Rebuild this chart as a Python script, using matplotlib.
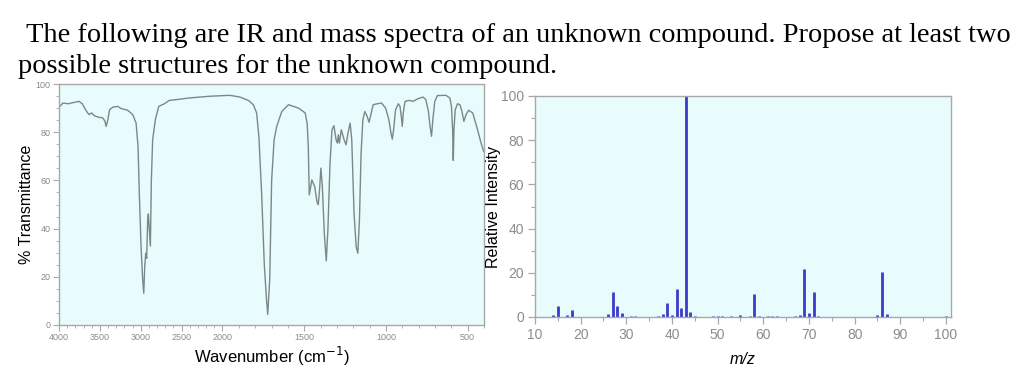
import matplotlib
matplotlib.use("Agg")
import matplotlib.pyplot as plt
import numpy as np
from matplotlib.ticker import MultipleLocator, FixedLocator

# IR trace: wavenumber (cm-1) and % transmittance
ir_wn = [4000, 3951, 3890, 3809, 3756, 3715, 3675, 3634, 3602, 3565, 3524, 3463,
         3439, 3423, 3402, 3382, 3341, 3280, 3240, 3159, 3098, 3057, 3033, 3016,
         2996, 2976, 2963, 2951, 2939, 2927, 2915, 2907, 2894, 2882, 2870, 2854,
         2821, 2780, 2711, 2650, 2569, 2407, 2163, 1955, 1894, 1842, 1811, 1791,
         1777, 1760, 1744, 1730, 1723, 1711, 1699, 1684, 1668, 1637, 1596, 1535,
         1494, 1482, 1475, 1469, 1453, 1436, 1422, 1414, 1406, 1398, 1389, 1377,
         1365, 1355, 1342, 1330, 1318, 1305, 1297, 1291, 1285, 1273, 1256, 1244,
         1232, 1219, 1209, 1195, 1182, 1172, 1162, 1152, 1141, 1129, 1115, 1103,
         1090, 1078, 1053, 1027, 1002, 982, 969, 961, 953, 941, 924, 914, 906,
         900, 894, 883, 859, 834, 807, 773, 756, 740, 730, 721, 713, 701, 685,
         633, 609, 599, 592, 588, 584, 576, 562, 547, 535, 523, 510, 494, 469,
         445, 418, 402]
ir_t = [90.4, 92.1, 91.8, 92.4, 92.8, 91.8, 89.3, 87.3, 88.0, 86.8, 86.3, 85.9,
        84.6, 82.4, 85.2, 89.3, 90.4, 90.7, 89.8, 89.1, 87.3, 83.8, 74.1, 53.3,
        32.5, 18.7, 13.2, 24.1, 29.8, 27.7, 43.6, 46.1, 39.5, 32.8, 60.2, 76.9,
        85.2, 90.7, 91.8, 93.2, 93.5, 94.2, 94.9, 95.3, 94.6, 93.2, 91.4, 88.0,
        78.0, 54.0, 25.0, 10.0, 4.4, 18.7, 60.2, 76.9, 82.4, 88.6, 91.4, 90.0,
        88.0, 83.8, 74.1, 54.0, 60.2, 57.5, 51.2, 49.9, 56.1, 65.1, 57.5, 38.1,
        26.6, 39.5, 67.2, 81.0, 82.7, 76.9, 75.5, 78.9, 75.5, 81.0, 76.9, 74.8,
        79.6, 83.8, 76.9, 46.4, 32.5, 29.8, 43.6, 71.3, 85.2, 88.6, 86.6, 84.1,
        88.0, 91.4, 91.8, 92.1, 90.0, 85.2, 79.6, 77.1, 81.0, 89.3, 91.8, 90.7,
        86.6, 82.4, 88.0, 92.8, 93.2, 92.8, 93.8, 94.6, 93.5, 88.6, 82.4, 78.3,
        85.2, 92.8, 95.2, 95.3, 94.2, 90.7, 81.0, 68.3, 81.0, 89.3, 91.8, 91.4,
        88.6, 84.5, 87.3, 89.1, 88.0, 82.4, 75.5, 72.0]

# mass spectrum peaks
ms_mz = [14, 15, 17, 18, 26, 27, 28, 29, 31, 32, 37, 38, 39, 40, 41, 42, 43, 44,
         45, 49, 50, 51, 53, 55, 57, 58, 59, 61, 62, 63, 67, 68, 69, 70, 71, 72,
         85, 86, 87, 100]
ms_int = [0.8, 5.2, 0.8, 3.3, 1.5, 11.1, 4.9, 2.0, 0.5, 0.5, 0.6, 1.3, 6.5, 0.9,
          12.5, 4.0, 100.0, 2.3, 0.6, 0.6, 0.6, 0.6, 0.6, 0.8, 0.5, 10.5, 0.5, 0.4,
          0.6, 0.4, 0.5, 1.0, 21.7, 1.8, 11.3, 0.4, 0.8, 20.3, 1.4, 0.5]

title_1 = "The following are IR and mass spectra of an unknown compound. Propose at least two"
title_2 = "possible structures for the unknown compound."

BG = "#e8fbfd"
SPINE = "#a8a8a8"
TICKC = "#8c8c8c"
SANS = ["Liberation Sans", "DejaVu Sans"]


def _ir_fwd(w):
    w = np.asarray(w, dtype=float)
    return np.where(w >= 2000, w, 2 * w - 2000)


def _ir_inv(v):
    v = np.asarray(v, dtype=float)
    return np.where(v >= 2000, v, (v + 2000) / 2)


def _style(ax):
    ax.set_facecolor(BG)
    for s in ax.spines.values():
        s.set_color(SPINE)
        s.set_linewidth(1.0)


fig = plt.figure(figsize=(10.24, 3.74), dpi=100)

# title text, sized so the first line spans the same width as in the picture
t1 = fig.text(26 / 1024, 1 - 41.7 / 374, title_1, family="Liberation Serif",
              fontsize=20, va="baseline", ha="left", color="black")
t2 = fig.text(18 / 1024, 1 - 72.7 / 374, title_2, family="Liberation Serif",
              fontsize=20, va="baseline", ha="left", color="black")
fig.canvas.draw()
w1 = t1.get_window_extent().width
fs = 20 * 986 / w1
t1.set_fontsize(fs)
t2.set_fontsize(fs)

# IR spectrum
ax1 = fig.add_axes([59 / 1024, 1 - 325 / 374, 425 / 1024, 241 / 374])
_style(ax1)
ax1.set_xscale("function", functions=(_ir_fwd, _ir_inv))
ax1.plot(ir_wn, ir_t, color="#7d8787", lw=1.0)
ax1.set_xlim(4000, 400)
ax1.set_ylim(0, 100)
ax1.xaxis.set_major_locator(FixedLocator([4000, 3500, 3000, 2500, 2000, 1500, 1000, 500]))
ax1.xaxis.set_minor_locator(FixedLocator(list(range(400, 4001, 100))))
ax1.yaxis.set_major_locator(MultipleLocator(20))
ax1.yaxis.set_minor_locator(MultipleLocator(5))
ax1.tick_params(which="both", colors=SPINE, labelcolor=TICKC, labelsize=6.5, direction="out")
ax1.tick_params(which="major", length=4, width=0.8, pad=2)
ax1.tick_params(which="minor", length=2, width=0.6)
for lab in ax1.get_xticklabels() + ax1.get_yticklabels():
    lab.set_family(SANS)
ax1.set_xlabel("Wavenumber (cm$^{-1}$)", family=SANS, fontsize=12, labelpad=2)
ax1.set_ylabel("% Transmittance", family=SANS, fontsize=11.5, labelpad=1)

# mass spectrum
ax2 = fig.add_axes([535 / 1024, 1 - 317 / 374, 416 / 1024, 221 / 374])
_style(ax2)
ax2.vlines(ms_mz, 0, ms_int, color="#3b3bcc", lw=2.0)
ax2.set_xlim(10, 101.1)
ax2.set_ylim(0, 100)
ax2.xaxis.set_major_locator(MultipleLocator(10))
ax2.xaxis.set_minor_locator(MultipleLocator(5))
ax2.yaxis.set_major_locator(MultipleLocator(20))
ax2.yaxis.set_minor_locator(MultipleLocator(10))
ax2.tick_params(which="both", colors=SPINE, labelcolor=TICKC, labelsize=10, direction="out")
ax2.tick_params(which="major", length=5, width=0.9, pad=3)
ax2.tick_params(which="minor", length=3, width=0.8)
for lab in ax2.get_xticklabels() + ax2.get_yticklabels():
    lab.set_family(SANS)
ax2.set_xlabel("m/z", family=SANS, style="italic", fontsize=11.5, labelpad=7)
ax2.set_ylabel("Relative Intensity", family=SANS, fontsize=11.5, labelpad=0)

fig.savefig("out.png", dpi=100, facecolor="white")
